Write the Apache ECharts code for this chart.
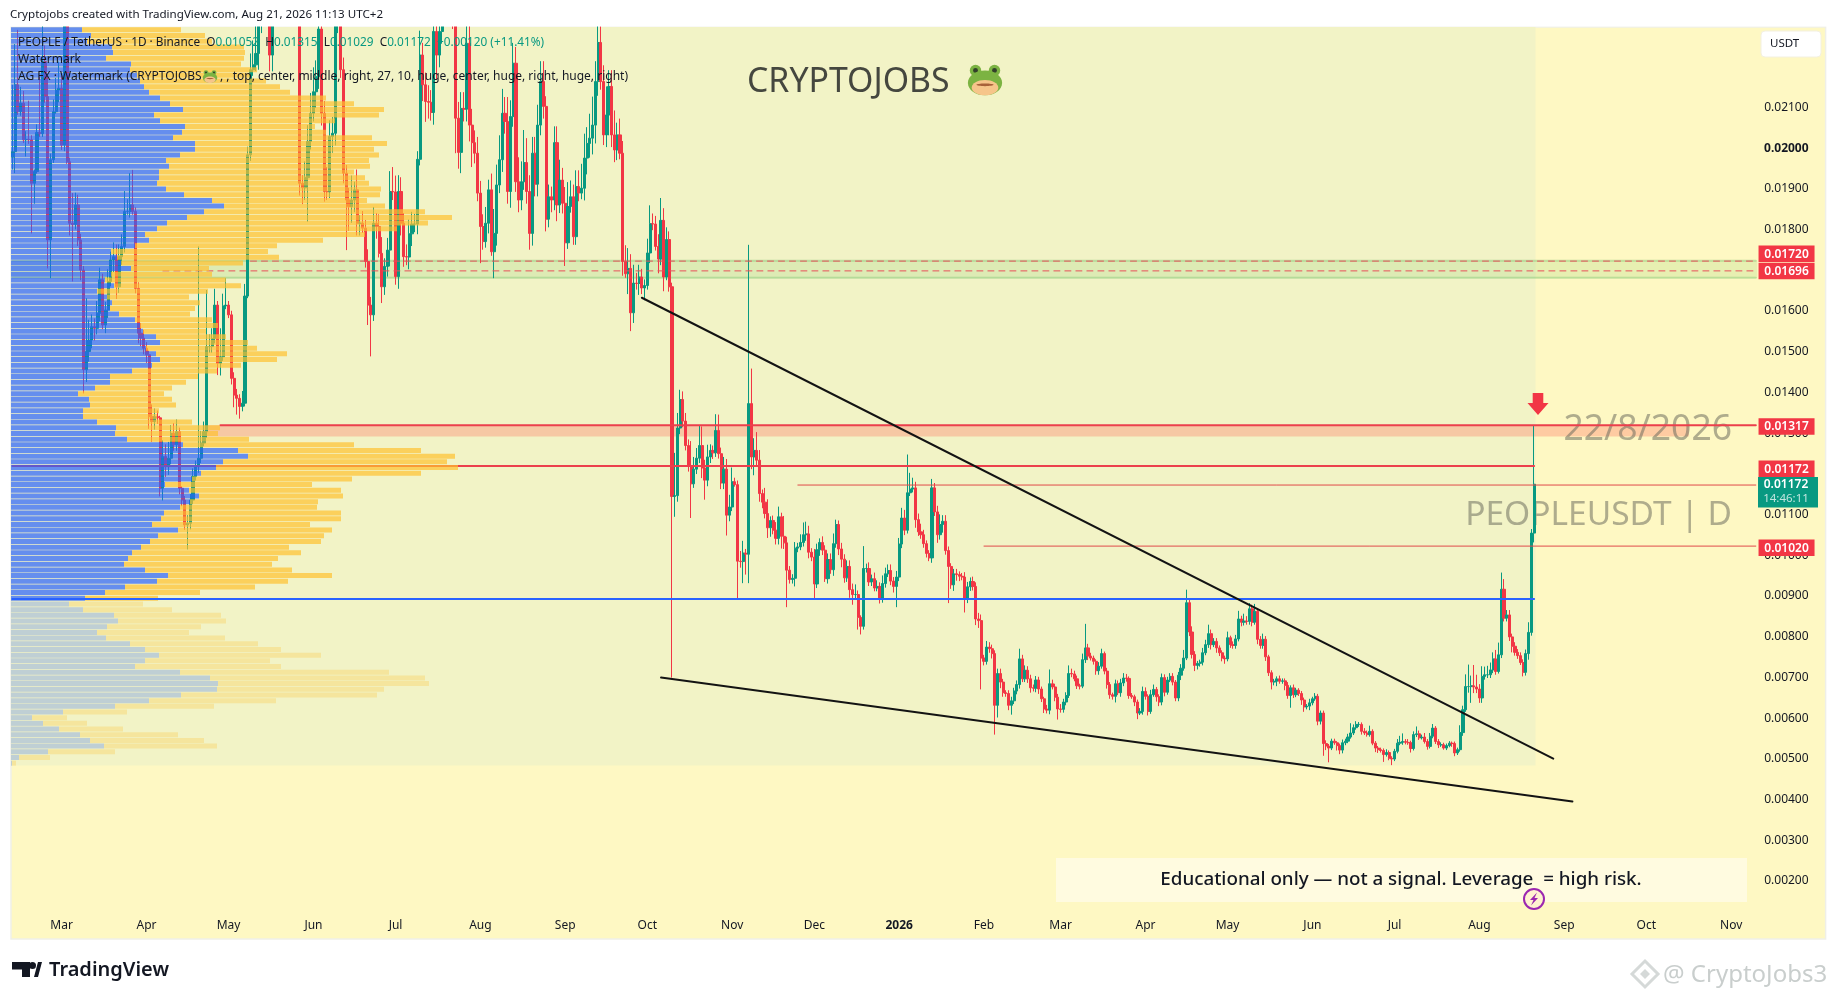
<!DOCTYPE html>
<html><head><meta charset="utf-8"><style>html,body{margin:0;padding:0;background:#fff}#c{width:1835px;height:1000px}</style>
<script src="https://cdn.jsdelivr.net/npm/echarts@6/dist/echarts.min.js"></script></head>
<body><div id="c"></div>
<script>
// Prices below are in units of 0.00001 USDT
const firstOpen = 1975;
const closes = [
1989,2153,2087,2108,2018,2019,2018,1911,1940,2036,2033,2210,2124,1772,1969,2087,2140,2145,2005,2310,
1964,1813,1810,1858,1772,1698,1453,1498,1526,1559,1555,1592,1674,1563,1600,1670,1723,1731,1657,1731,
1756,1842,1842,1858,1842,1653,1543,1531,1506,1490,1338,1326,1338,1335,1162,1240,1215,1236,1297,1269,
1301,1162,1133,1072,1076,1133,1191,1215,1236,1273,1301,1510,1510,1530,1612,1469,1485,1610,1612,1588,
1432,1391,1383,1363,1371,1634,1981,2190,2202,2230,2320,2380,2350,2420,2226,2400,2420,2360,2480,2520,
2460,2550,2500,2450,2430,1911,1900,1925,2014,2083,2136,2173,2290,2083,1891,1890,2026,2034,2310,2340,
2190,1936,1870,1854,1870,1895,1813,1813,1801,1719,1612,1588,1813,1805,1739,1657,1707,1747,1891,1890,
1682,1891,1813,1731,1730,1787,1811,1811,1970,2226,2153,2112,2110,2085,2284,2226,2284,2330,2380,2420,
2400,2330,2071,1987,2095,2093,2255,2054,2011,1985,1887,1805,1768,1813,1895,1743,1788,1907,1969,2083,
2063,1891,2075,2206,1915,1870,1915,1962,1891,1788,1985,1909,2054,2161,2100,1823,1878,1870,2011,1858,
1919,1862,1765,1854,1878,1780,1903,1887,1899,1973,2009,2022,2054,2161,2257,2161,2030,2079,2149,2030,
1993,2030,1985,1719,1689,1702,1593,1666,1665,1681,1654,1660,1740,1812,1811,1756,1725,1820,1681,1773,
1657,1142,1144,1310,1380,1327,1267,1218,1173,1209,1236,1267,1212,1182,1239,1255,1249,1304,1247,1175,
1209,1096,1116,1178,1171,983,982,1003,1000,1370,1239,1255,1231,1149,1128,1100,1065,1083,1059,1039,
1092,1044,1028,961,938,941,1015,1018,1029,1048,1050,1005,993,927,1011,1029,1010,940,987,962,
1026,1073,1013,988,942,970,913,901,901,845,823,965,965,932,940,917,921,889,928,952,
960,934,921,944,1025,1089,1059,1151,1160,1163,1085,1055,1048,1026,1002,991,1163,1104,1048,1073,
1081,1009,970,925,952,950,946,944,890,920,933,921,841,837,745,737,772,768,756,629,
707,686,660,658,629,640,664,680,743,694,715,694,672,671,691,669,645,620,617,682,
674,649,620,619,637,653,707,706,694,677,676,741,770,750,745,737,714,725,756,713,
680,655,651,682,660,684,696,695,653,650,637,610,614,663,651,614,655,668,650,637,
697,661,691,700,686,647,703,720,745,881,809,754,727,732,735,758,778,805,778,786,
770,758,745,743,795,778,776,792,841,833,836,835,866,833,860,791,776,791,748,709,
686,688,694,688,689,678,653,672,655,666,658,642,625,627,635,645,651,590,610,535,
529,524,541,537,530,519,537,541,551,561,574,582,582,565,561,557,565,536,524,520,
518,508,513,499,497,516,536,538,540,538,537,523,557,559,549,551,540,528,553,573,
540,532,532,524,530,536,535,512,520,562,618,675,675,677,674,669,647,700,704,704,
716,743,712,753,914,843,851,797,774,759,751,734,710,756,808,1052,1172];
const wickUp = [
164,100,135,40,30,20,95,11,5,20,137,100,40,50,15,30,30,65,30,50,
40,10,74,30,25,15,10,131,50,30,20,30,30,15,20,30,20,35,30,30,
30,50,30,78,86,10,15,25,20,15,10,30,20,15,5,40,30,40,20,25,
30,10,5,10,20,15,20,15,520,30,25,139,30,25,40,10,70,30,66,10,
10,15,15,10,30,30,20,40,60,90,50,60,60,50,80,50,40,60,40,40,
40,40,40,40,40,60,20,40,40,50,60,40,80,90,30,60,40,40,60,50,
60,30,20,30,60,20,50,20,30,20,30,20,40,25,30,40,20,30,50,60,
40,40,35,25,30,35,30,25,20,60,30,30,40,30,60,50,40,50,60,50,
50,50,60,40,40,40,60,60,40,30,40,30,30,40,25,40,60,50,60,60,
40,60,40,50,40,60,50,80,60,40,40,40,50,50,50,25,30,25,40,40,
50,30,40,60,40,30,40,40,60,60,40,60,70,50,60,40,40,70,40,40,
60,30,40,30,40,50,35,45,25,30,20,15,35,45,25,20,30,55,30,30,
20,10,105,37,24,20,20,15,60,30,25,50,47,20,30,15,12,40,39,15,
30,25,30,35,10,10,25,30,10,390,86,30,45,25,10,35,35,10,12,20,
25,10,50,15,10,10,15,10,20,30,30,20,10,20,15,10,15,12,15,15,
25,12,10,15,12,15,15,15,25,10,5,55,12,15,10,15,15,10,20,15,
15,15,10,15,15,25,20,94,40,25,15,15,20,12,8,8,22,12,15,25,
15,15,10,8,12,12,8,8,12,12,10,12,10,15,15,8,15,12,10,8,
12,12,8,6,8,10,8,10,25,10,12,10,10,8,10,8,6,5,10,35,
10,8,8,12,8,8,20,12,8,8,5,15,59,10,8,6,5,10,12,5,
8,6,5,10,8,10,12,10,5,6,5,6,8,12,10,5,12,12,6,6,
10,8,8,8,8,5,8,10,20,32,10,14,8,6,6,12,12,22,10,8,
8,6,6,6,15,5,8,10,20,8,18,12,14,10,18,6,8,14,8,5,
6,6,6,8,6,6,8,6,8,6,5,6,6,5,10,5,8,6,6,6,
8,5,6,6,4,5,8,6,8,24,8,8,6,5,8,6,14,5,5,5,
5,5,8,5,5,6,10,16,20,6,8,5,8,18,8,6,10,6,8,10,
5,6,6,5,5,5,4,5,5,18,10,30,54,25,51,30,12,25,20,22,
18,16,22,30,41,25,12,12,8,10,8,8,8,10,25,10,145];
const wickDown = [
30,53,8,10,8,41,10,123,50,5,8,8,15,70,94,8,5,30,12,15,
5,30,140,12,15,25,58,30,25,20,30,15,20,10,20,20,12,30,30,15,
20,15,8,15,8,12,25,20,15,20,30,50,20,15,20,30,25,20,15,15,
15,15,15,12,60,15,10,10,15,12,8,15,15,15,12,29,30,10,8,8,
15,30,40,30,12,8,5,15,15,15,40,40,40,40,40,40,40,40,40,40,
40,40,40,40,40,30,40,30,108,20,20,40,30,30,25,20,15,40,30,30,
20,25,123,60,40,30,30,30,12,15,49,102,15,30,10,40,20,25,40,20,
20,30,30,25,20,30,30,20,25,15,40,50,40,20,30,60,30,30,30,30,
30,40,86,40,51,30,30,40,60,25,20,90,20,15,25,10,65,30,20,30,
30,30,40,25,25,30,25,20,30,40,30,30,30,25,30,30,20,30,25,40,
20,25,57,15,15,20,20,20,15,30,40,35,40,45,35,20,25,30,50,30,
30,25,15,35,10,50,45,25,15,28,15,30,10,25,15,10,35,15,35,8,
12,445,50,15,15,15,12,15,84,10,12,12,25,48,15,15,15,10,12,15,
15,50,15,10,5,94,15,53,50,71,30,45,12,20,15,12,25,22,10,15,
15,30,15,91,10,10,20,10,8,10,15,15,10,37,10,15,12,8,12,10,
15,10,15,20,12,10,20,25,10,30,20,8,10,10,10,8,8,10,8,10,
8,10,15,51,10,10,12,8,8,8,20,10,10,10,10,8,12,10,20,12,
20,10,90,10,15,15,12,8,33,10,10,10,15,18,77,10,8,10,12,72,
30,15,10,8,12,23,8,8,10,8,8,10,12,8,10,12,8,10,8,10,
6,10,26,8,8,8,6,8,6,8,8,5,8,10,6,8,10,10,6,8,
10,10,8,15,6,10,8,8,8,5,10,15,5,8,8,10,6,5,12,10,
8,10,6,5,8,8,8,12,6,5,10,10,14,10,8,8,6,8,12,6,
12,8,8,12,6,8,8,8,6,10,8,8,8,10,6,12,8,8,10,8,
18,8,12,6,6,12,8,30,8,6,6,12,12,6,10,6,5,10,8,30,
10,35,5,5,12,10,8,6,5,4,5,5,6,8,5,5,5,5,10,8,
5,18,5,5,15,5,5,5,6,5,5,10,5,6,5,4,5,8,5,5,
6,8,5,4,5,4,8,8,5,5,8,5,15,40,15,10,12,12,8,8,
8,8,8,5,8,8,8,10,15,8,8,6,10,8,15,8,23];
// Volume profile rows, top to bottom
const vpBuy = [71,80,76,101,102,95,120,119,126,129,133,138,149,159,172,143,149,174,171,162,184,184,169,155,158,148,148,146,155,173,201,213,193,176,156,146,134,138,124,100,106,110,120,100,94,103,86,96,101,99,108,124,129,132,145,149,
135,145,149,141,121,99,99,84,67,78,79,72,72,86,105,104,116,172,227,237,212,205,190,181,154,178,188,179,169,153,150,141,167,147,139,130,121,117,113,134,157,146,114,94,74,58,72,103,107,96,86,95,119,134,148,134,124,169,199,
207,206,170,138,104,52,21,32,48,69,79,93,37,8,1];
const vpTotal = [170,194,201,233,234,233,230,246,239,255,269,279,315,343,373,368,324,304,315,361,376,363,368,358,359,343,354,358,370,369,356,374,414,441,417,386,354,312,266,257,268,232,198,201,215,230,197,178,189,184,179,201,207,195,215,237,
246,276,266,230,206,187,175,161,153,161,165,148,146,181,209,207,238,343,410,444,436,447,410,341,301,330,332,307,306,330,330,299,321,313,310,278,290,267,261,281,321,277,244,189,147,132,161,210,215,190,178,214,247,270,310,259,270,378,414,
418,373,366,265,203,116,56,76,112,167,193,206,104,39,5];
const yTickLabels = ['0.02100','0.02000','0.01900','0.01800','0.01600','0.01500','0.01400','0.01300','0.01100','0.01000','0.00900','0.00800','0.00700','0.00600','0.00500','0.00400','0.00300','0.00200'];
const monthNames = ['2026','Feb','Mar','Apr','May','Jun','Jul','Aug','Sep','Oct','Nov','Dec'];
const firstDate = '2025-02-11', lastAxisDate = '2026-12-05', lastLabelMonth = '2026-11';
const trendlines = [['2025-09-29',0.0163,'2026-08-28',0.00498],['2025-10-06',0.00697,'2026-09-04',0.00393]];
const valueAreaEdge = 0.00481;
const levelThick = 0.01317, levelMid = 0.01217, levelLast = 0.0117, levelLow = 0.0102, levelBlue = 0.0089, dashTop = 0.0172, dashBottom = 0.01696, greenTop = 0.01721, greenBottom = 0.01679, salmonBottom = 0.01289;
const priceLabels = [[0.01738,'0.01720'],[0.01696,'0.01696'],[0.01314,'0.01317'],[0.0121,'0.01172'],[0.01016,'0.01020']];

const DAY = 864e5, t0 = Date.parse(firstDate+'T00:00:00Z');
const idx = s => Math.round((Date.parse(s+'T00:00:00Z')-t0)/DAY);
const categories = [];
for (let t=t0; t<=Date.parse(lastAxisDate+'T00:00:00Z'); t+=DAY) categories.push(new Date(t).toISOString().slice(0,10));
const ohlc = closes.map((c,i)=>{const o=i?closes[i-1]:firstOpen; return [o/1e5,c/1e5,(Math.min(o,c)-wickDown[i])/1e5,(Math.max(o,c)+wickUp[i])/1e5];});
const FONT='"Noto Sans",sans-serif', UP='#089981', DOWN='#f23645';
const lastD='2026-08-21', farD='2026-11-10';

function customLayer(z, items){
  return {type:'custom',xAxisIndex:0,yAxisIndex:0,z,silent:true,clip:false,data:items.map((_,i)=>[i,0]),
    encode:{x:0,y:1},
    renderItem(params,api){
      const it=items[params.dataIndex], bw=api.size([1,0])[0];
      const a=api.coord([idx(it.from),it.p1]), b=api.coord([idx(it.to),it.p2===undefined?it.p1:it.p2]);
      if(it.kind==='rect'){
        const x0=a[0]-bw/2, x1=b[0]+bw/2;
        return {type:'rect',shape:{x:x0,y:a[1],width:x1-x0,height:b[1]-a[1]},style:{fill:it.fill}};
      }
      if(it.kind==='label'){
        const h=it.h||16.5, w=it.w||56;
        return {type:'group',children:[
          {type:'rect',shape:{x:a[0],y:a[1]-h/2,width:w,height:h},style:{fill:it.fill}},
          {type:'text',style:{x:a[0]+28,y:a[1]+0.5,text:it.text,fill:'#fff',font:'600 12px '+FONT,align:'center',verticalAlign:'middle'}}]};
      }
      return {type:'line',shape:{x1:a[0],y1:a[1],x2:b[0],y2:b[1]},style:{stroke:it.stroke,lineWidth:it.w,lineDash:it.dash||null,lineCap:'round'}};
    }};
}

const frog=(x,y,s,z)=>({type:'group',x,y,scaleX:s,scaleY:s,z,silent:true,children:[
  {type:'circle',z,shape:{cx:-10,cy:-11,r:6},style:{fill:'#7cb342'}},{type:'circle',z,shape:{cx:10,cy:-11,r:6},style:{fill:'#7cb342'}},
  {type:'circle',z,shape:{cx:-10,cy:-11,r:2.6},style:{fill:'#33402a'}},{type:'circle',z,shape:{cx:10,cy:-11,r:2.6},style:{fill:'#33402a'}},
  {type:'ellipse',z,shape:{cx:0,cy:2,rx:18,ry:13},style:{fill:'#7cb342'}},
  {type:'ellipse',z,shape:{cx:0,cy:7,rx:14,ry:8},style:{fill:'#f6c58a'}},
  {type:'ellipse',z,shape:{cx:0,cy:4,rx:9,ry:1.4},style:{fill:'#a8623a'}}]});

const legendRich={k:{fill:'#131722',font:'11.8px '+FONT},v:{fill:'#089981',font:'11.8px '+FONT}};
const txt=(x,y,text,fill,font,z,extra)=>({type:'text',x,y,z,silent:true,style:Object.assign({text,fill,font,verticalAlign:'middle'},extra||{})});

const graphic=[
  // page margin above the panel: candles that run past the top of the price scale end here
  {type:'rect',z:20,silent:true,shape:{x:0,y:0,width:1835,height:26.5},style:{fill:'#fff'}},
  txt(10,15,'Cryptojobs created with TradingView.com, Aug 21, 2026 11:13 UTC+2','#131722','11.6px '+FONT,100),
  txt(18,43,'{k|PEOPLE / TetherUS · 1D · Binance  O}{v|0.01052}{k|  H}{v|0.01315}{k|  L}{v|0.01029}{k|  C}{v|0.01172  +0.00120 (+11.41%)}','#131722','11.8px '+FONT,100,{rich:legendRich}),
  txt(18,60,'Watermark','#131722','12px '+FONT,100),
  txt(18,77,'AG FX · Watermark (CRYPTOJOBS','#131722','12px '+FONT,100),
  frog(210,77,0.4,100),
  txt(220,77,', , top, center, middle, right, 27, 10, huge, center, huge, right, huge, right)','#131722','12px '+FONT,100),
  txt(747,82,'CRYPTOJOBS','rgba(50,52,48,0.9)','33.8px '+FONT,2),
  frog(985,81,0.95,2),
  txt(1732,430,'22/8/2026','rgba(110,110,95,0.55)','35.5px '+FONT,2,{align:'right'}),
  txt(1732,515,'PEOPLEUSDT | D','rgba(110,110,95,0.55)','33.5px '+FONT,2,{align:'right'}),
  {type:'rect',z:30,silent:true,shape:{x:1056,y:858,width:691,height:44},style:{fill:'#fffbe0'}},
  txt(1401,880,'Educational only — not a signal. Leverage  = high risk.','#131722','500 18.8px '+FONT,31,{align:'center'}),
  {type:'circle',z:32,silent:true,shape:{cx:1534,cy:899,r:10},style:{fill:'#fff3d0',stroke:'#9c27b0',lineWidth:2}},
  {type:'polygon',z:33,silent:true,shape:{points:[[1537,892.5],[1530,900],[1533.5,900],[1531,905.5],[1538,898],[1534.5,898]]},style:{fill:'#9c27b0'}},
  {type:'polygon',z:40,silent:true,shape:{points:[[1532.7,393],[1543.3,393],[1543.3,403],[1548.5,403],[1538,415],[1527.5,403],[1532.7,403]]},style:{fill:DOWN}},
  {type:'rect',z:40,silent:true,shape:{x:1761,y:31,width:60,height:26,r:4},style:{fill:'#fff',stroke:'#f3f0e0'}},
  txt(1770,44,'USDT','#131722','11.5px '+FONT,41),
  // last price tag
  {type:'rect',z:40,silent:true,shape:{x:1758,y:477,width:60,height:30.5},style:{fill:UP}},
  txt(1786,485,'0.01172','#fff','600 12px '+FONT,41,{align:'center'}),
  txt(1786,499,'14:46:11','rgba(255,255,255,0.75)','11.5px '+FONT,41,{align:'center'}),
  // TradingView logo
  {type:'polygon',z:40,silent:true,shape:{points:[[12,962],[30,962],[30,977],[22,977],[22,969.5],[12,969.5]]},style:{fill:'#131722'}},
  {type:'circle',z:40,silent:true,shape:{cx:32.5,cy:965.5,r:3.5},style:{fill:'#131722'}},
  {type:'polygon',z:40,silent:true,shape:{points:[[34,977],[38,962],[42,962],[38,977]]},style:{fill:'#131722'}},
  txt(49,970,'TradingView','#131722','600 20px '+FONT,40),
  // publisher mark
  {type:'polygon',z:40,silent:true,shape:{points:[[1645,961],[1658,974],[1645,987],[1632,974]]},style:{fill:'none',stroke:'#d5d9d8',lineWidth:3}},
  {type:'polygon',z:40,silent:true,shape:{points:[[1645,969],[1650,974],[1645,979],[1640,974]]},style:{fill:'#d5d9d8'}},
  txt(1663,975,'@ CryptoJobs3','#c9cecd','24px '+FONT,40)
];

const option={
  animation:false,backgroundColor:'#fff',tooltip:{show:false},legend:{show:false},
  graphic:{elements:graphic},
  grid:[
    {left:11,top:27,width:1814.6,height:912,show:true,backgroundColor:'#fef8c3',borderColor:'#efefe8',borderWidth:1.5,containLabel:false},
    {left:11,top:27,width:1814.6,height:739,show:false,containLabel:false}],
  xAxis:[
    {type:'category',data:categories,gridIndex:0,boundaryGap:true,axisLine:{show:false},axisTick:{show:false},splitLine:{show:false},
     axisLabel:{inside:true,margin:7,hideOverlap:false,color:'#131722',fontFamily:FONT,fontSize:12,
       interval:(i,v)=>v.slice(8)==='01'&&v.slice(0,7)<=lastLabelMonth,
       formatter:v=>{const m=+v.slice(5,7)-1;return (v.slice(0,7)==='2026-01')?'{b|2026}':monthNames[m===0?1:m];},
       rich:{b:{fontWeight:'bold',fontFamily:FONT,fontSize:12,color:'#131722'}}}},
    {type:'value',gridIndex:1,min:0,max:1814.6,show:false}],
  yAxis:[
    {type:'value',gridIndex:0,position:'right',min:0.00055,max:0.02295,interval:0.00005,axisLine:{show:false},axisTick:{show:false},splitLine:{show:false},
     axisLabel:{inside:true,margin:17,color:'#131722',fontFamily:FONT,fontSize:12,hideOverlap:false,showMinLabel:true,showMaxLabel:true,padding:[2,0,0,0],
       formatter:v=>{const s=(Math.round(v*1e5)/1e5).toFixed(5);return yTickLabels.includes(s)?(s==='0.02000'?'{b|'+s+'}':s):'';},
       rich:{b:{fontWeight:'bold',fontFamily:FONT,fontSize:12,color:'#131722'}}}},
    {type:'category',gridIndex:1,inverse:true,data:vpBuy.map((_,i)=>i),show:false}],
  series:[
    customLayer(1,[
      {kind:'rect',from:firstDate,to:lastD,p1:0.02295,p2:valueAreaEdge,fill:'#f2f3c6'}]),
    customLayer(1.5,[
      {kind:'rect',from:'2025-04-22',to:'2026-10-16',p1:levelThick,p2:salmonBottom,fill:'rgba(255,120,100,0.35)'},
      {kind:'rect',from:firstDate,to:farD,p1:greenTop,p2:greenBottom,fill:'rgba(110,190,90,0.16)'},
      {kind:'line',from:firstDate,to:farD,p1:greenTop,stroke:'rgba(120,195,110,0.42)',w:2},
      {kind:'line',from:firstDate,to:farD,p1:greenBottom,stroke:'rgba(120,195,110,0.42)',w:2}]),
    {type:'candlestick',xAxisIndex:0,yAxisIndex:0,z:3,silent:true,clip:true,data:ohlc,barWidth:2.6,
     itemStyle:{color:UP,color0:DOWN,borderColor:UP,borderColor0:DOWN,borderColorDoji:UP,borderWidth:1}},
    customLayer(4,[
      {from:'2025-05-09',to:farD,p1:dashTop,stroke:'#e8505a',w:1,dash:[6,5]},
      {from:'2025-04-07',to:farD,p1:dashBottom,stroke:'#e8505a',w:1,dash:[6,5]},
      {from:'2025-04-28',to:farD,p1:levelThick,stroke:'#ec3f4c',w:2},
      {from:firstDate,to:lastD,p1:levelMid,stroke:'#ec3f4c',w:2},
      {from:'2025-11-25',to:farD,p1:levelLast,stroke:'#e04a4a',w:1},
      {from:'2026-02-01',to:farD,p1:levelLow,stroke:'#e04a4a',w:1}]),
    {type:'bar',xAxisIndex:1,yAxisIndex:1,z:5,stack:'vp',silent:true,barWidth:5,
     data:vpBuy.map((v,i)=>({value:v,itemStyle:{color:'#2962ff',opacity:i>=101?0.25:0.7}}))},
    {type:'bar',xAxisIndex:1,yAxisIndex:1,z:5,stack:'vp',silent:true,barWidth:5,
     data:vpTotal.map((v,i)=>({value:v-vpBuy[i],itemStyle:{color:'#ffc12f',opacity:i>=101?0.27:0.7}}))},
    customLayer(6,[
      {from:firstDate,to:lastD,p1:levelBlue,stroke:'#2962ff',w:2},
      ...trendlines.map(t=>({from:t[0],p1:t[1],to:t[2],p2:t[3],stroke:'#131313',w:2}))]),
    customLayer(10,priceLabels.map(l=>({kind:'label',from:'2026-11-11',to:'2026-11-11',p1:l[0],p2:l[0],text:l[1],fill:DOWN})))
  ]
};
const chart=echarts.init(document.getElementById('c'),null,{renderer:'canvas',width:1835,height:1000});
chart.setOption(option);
</script></body></html>
